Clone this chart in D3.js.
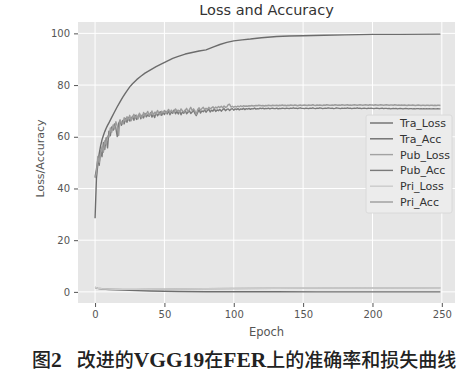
<!DOCTYPE html>
<html>
<head>
<meta charset="utf-8">
<script src="https://cdn.jsdelivr.net/npm/d3@7"></script>
<style>
  body { margin: 0; background: #fff; }
  svg { display: block; }
</style>
</head>
<body>
<div id="chart"></div>
<script>
// training accuracy / losses: sparse readings
var traAccEpoch = [0,1,2,3,4,5,6,7,8,9,10,12,14,16,18,20,22,25,27,30,33,36,40,44,48,52,56,60,65,70,75,80,85,90,95,100,106,112,120,131,140,150,165,180,200,220,249];
var traAcc = [28.5,44.0,49.5,53.5,56.5,58.8,60.5,62.0,63.3,64.4,65.4,67.5,69.6,71.6,73.5,75.3,77.0,79.3,80.5,82.1,83.4,84.6,85.9,87.1,88.2,89.3,90.3,91.1,92.0,92.6,93.2,93.6,94.7,95.7,96.5,97.1,97.5,97.8,98.3,98.8,99.0,99.1,99.3,99.4,99.6,99.6,99.7];

var lossEpoch = [0,2,5,10,15,20,30,40,50,60,80,100,130,160,200,249];
var traLoss = [1.75,1.35,1.1,0.95,0.82,0.7,0.5,0.35,0.22,0.14,0.07,0.04,0.03,0.02,0.02,0.01];
var pubLoss = [1.7,1.4,1.2,1.05,1.0,0.98,0.97,1.0,1.05,1.1,1.2,1.3,1.38,1.44,1.5,1.55];
var priLoss = [1.72,1.42,1.22,1.06,1.01,0.99,0.98,1.01,1.06,1.11,1.21,1.31,1.39,1.45,1.51,1.56];

// validation accuracies, one value per epoch (0..249)
var pubAcc = [
  44.5,47.5,51.2,49.0,54.5,52.3,57.8,55.1,59.6,55.7,
  62.2,60.4,63.8,62.5,65.0,63.3,60.1,65.2,66.3,64.4,
  66.3,65.0,67.1,65.6,67.5,66.1,66.8,67.9,66.4,68.3,
  66.7,67.6,68.8,67.0,68.4,67.3,69.0,67.7,68.5,67.9,
  69.3,67.6,68.7,67.4,69.5,68.1,68.9,69.7,68.3,69.4,
  68.6,69.9,68.8,70.1,68.5,69.6,69.1,70.4,68.9,69.8,
  68.8,70.0,68.5,69.7,69.1,70.3,68.9,69.5,70.1,69.0,
  69.6,70.3,69.0,68.2,69.4,70.5,69.2,70.0,69.7,70.4,
  69.5,70.2,70.7,69.6,70.3,69.9,70.8,69.8,70.4,70.1,
  70.6,69.9,70.5,70.9,70.1,70.6,70.8,70.2,70.7,70.9,
  70.3,70.8,70.5,70.9,70.4,70.8,70.6,71.0,70.5,70.9,
  70.7,71.0,70.6,70.9,70.8,71.1,70.7,70.9,70.8,71.1,
  70.9,71.1,70.8,71.0,70.9,71.1,70.8,71.0,71.1,70.9,
  70.9,71.1,70.8,71.0,70.9,71.1,71.0,70.9,71.1,71.0,
  70.9,71.1,71.0,71.2,71.0,71.1,70.9,71.1,71.2,71.0,
  71.0,70.9,71.1,71.0,70.9,71.1,71.0,71.2,71.0,70.9,
  71.1,71.0,71.2,71.1,70.9,71.0,71.1,71.0,71.2,71.1,
  71.0,71.1,70.9,71.0,71.2,71.1,71.0,70.9,71.1,71.0,
  71.1,71.0,71.2,71.0,71.1,70.9,71.0,71.1,71.0,71.2,
  71.0,71.1,70.9,71.0,71.1,71.0,70.9,71.1,71.0,71.1,
  71.0,70.9,71.0,71.1,71.0,70.9,71.0,71.1,70.9,71.0,
  71.0,70.9,71.0,70.8,70.9,71.0,70.9,71.0,70.8,70.9,
  71.0,70.9,70.8,70.9,71.0,70.9,70.8,70.9,70.9,70.8,
  70.9,70.8,70.9,70.9,70.8,70.9,70.8,70.9,70.8,70.9,
  70.8,70.9,70.8,70.8,70.9,70.8,70.8,70.9,70.8,70.8
];
var priAcc = [
  44.0,46.0,52.4,50.1,53.6,56.2,54.0,58.5,57.0,60.3,
  59.9,63.4,61.7,64.6,63.0,65.8,64.1,60.5,66.6,65.5,
  64.9,67.4,66.0,67.8,66.5,68.3,66.2,67.5,68.7,67.1,
  68.4,66.9,69.1,67.8,67.4,69.4,68.0,68.9,69.8,68.2,
  68.8,70.0,68.4,69.5,68.7,70.2,69.1,68.4,69.9,69.2,
  70.2,69.0,69.7,70.6,69.3,70.3,69.6,69.4,70.8,70.0,
  70.3,69.5,70.8,70.0,69.6,70.2,71.0,69.8,70.5,71.4,
  70.1,70.8,70.0,68.6,70.6,71.2,70.3,70.9,71.4,70.5,
  71.0,70.6,71.4,70.8,71.2,71.6,70.9,71.5,71.1,71.7,
  71.3,71.8,71.2,71.9,71.4,71.6,72.4,72.6,71.5,71.8,
  71.4,71.8,71.5,71.9,71.6,72.0,71.7,72.0,71.8,71.9,
  71.8,72.0,71.9,72.1,71.9,72.0,72.1,72.0,72.2,72.1,
  72.0,72.1,71.9,72.1,72.0,72.2,72.1,72.0,72.2,72.1,
  72.1,72.2,72.0,72.2,72.1,72.3,72.1,72.2,72.0,72.2,
  72.1,72.3,72.2,72.1,72.3,72.2,72.0,72.2,72.3,72.1,
  72.2,72.3,72.2,72.1,72.3,72.2,72.2,72.4,72.2,72.1,
  72.3,72.2,72.3,72.2,72.1,72.3,72.2,72.4,72.3,72.2,
  72.2,72.3,72.2,72.4,72.3,72.2,72.3,72.2,72.4,72.3,
  72.2,72.3,72.4,72.2,72.3,72.2,72.3,72.4,72.3,72.2,
  72.3,72.4,72.3,72.2,72.3,72.4,72.3,72.2,72.4,72.3,
  72.3,72.2,72.4,72.3,72.2,72.3,72.4,72.3,72.2,72.3,
  72.4,72.3,72.2,72.3,72.3,72.2,72.4,72.3,72.2,72.3,
  72.2,72.3,72.2,72.3,72.2,72.1,72.3,72.2,72.2,72.3,
  72.2,72.1,72.2,72.3,72.2,72.1,72.2,72.2,72.1,72.2,
  72.2,72.1,72.2,72.2,72.1,72.2,72.1,72.2,72.2,72.1
];

var legendNames = ["Tra_Loss","Tra_Acc","Pub_Loss","Pub_Acc","Pri_Loss","Pri_Acc"];
var xTicks = [0,50,100,150,200,250];
var yTicks = [0,20,40,60,80,100];

var w = 474, h = 379;
var mLeft = 78, mRight = 455, mTop = 22, mBottom = 303;

var svg = d3.select("#chart").append("svg").attr("width", w).attr("height", h);

var xScale = d3.scaleLinear().domain([-12.3, 259.5]).range([mLeft, mRight]);
var yScale = d3.scaleLinear().domain([-4.3, 104.4]).range([mBottom, mTop]);

// panel
svg.append("rect")
  .attr("x", mLeft).attr("y", mTop)
  .attr("width", mRight - mLeft).attr("height", mBottom - mTop)
  .attr("fill", "#e6e6e6");

// grid
svg.append("g").selectAll("line").data(xTicks).enter().append("line")
  .attr("x1", function(d) { return xScale(d); }).attr("x2", function(d) { return xScale(d); })
  .attr("y1", mTop).attr("y2", mBottom)
  .attr("stroke", "#fff").attr("stroke-width", 1);
svg.append("g").selectAll("line").data(yTicks).enter().append("line")
  .attr("y1", function(d) { return yScale(d); }).attr("y2", function(d) { return yScale(d); })
  .attr("x1", mLeft).attr("x2", mRight)
  .attr("stroke", "#fff").attr("stroke-width", 1);

// axes
var xAxis = d3.axisBottom(xScale).tickValues(xTicks).tickSize(4).tickPadding(4);
var yAxis = d3.axisLeft(yScale).tickValues(yTicks).tickSize(4).tickPadding(4);
var gx = svg.append("g").attr("transform", "translate(0," + mBottom + ")").call(xAxis);
var gy = svg.append("g").attr("transform", "translate(" + mLeft + ",0)").call(yAxis);
[gx, gy].forEach(function(g) {
  g.select(".domain").remove();
  g.selectAll(".tick line").attr("stroke", "#555");
  g.selectAll(".tick text")
    .attr("fill", "#555")
    .attr("font-family", "DejaVu Sans")
    .attr("font-size", "10px");
});

// lines
var line = d3.line()
  .x(function(d) { return xScale(d[0]); })
  .y(function(d) { return yScale(d[1]); });

function pairs(xs, ys) {
  return ys.map(function(v, i) { return [xs[i], v]; });
}
var epochs = d3.range(pubAcc.length);

var series = [
  { name: "Tra_Loss", data: pairs(lossEpoch, traLoss), color: "#6e6e6e" },
  { name: "Tra_Acc", data: pairs(traAccEpoch, traAcc), color: "#6c6c6c" },
  { name: "Pub_Loss", data: pairs(lossEpoch, pubLoss), color: "#a2a2a2" },
  { name: "Pub_Acc", data: pairs(epochs, pubAcc), color: "#7a7a7a" },
  { name: "Pri_Loss", data: pairs(lossEpoch, priLoss), color: "#cbcbcb" },
  { name: "Pri_Acc", data: pairs(epochs, priAcc), color: "#9c9c9c" }
];

svg.append("g").selectAll("path").data(series).enter().append("path")
  .attr("d", function(d) { return line(d.data); })
  .attr("fill", "none")
  .attr("stroke", function(d) { return d.color; })
  .attr("stroke-width", 1.4)
  .attr("stroke-linejoin", "round");

// legend
var lx = 366, ly = 115;
svg.append("rect")
  .attr("x", lx).attr("y", ly).attr("width", 86).attr("height", 98)
  .attr("rx", 2)
  .attr("fill", "#ececec").attr("stroke", "#d6d6d6").attr("stroke-width", 0.8);
var lg = svg.append("g").selectAll("g").data(series).enter().append("g")
  .attr("transform", function(d, i) { return "translate(" + lx + "," + (ly + 8 + i * 15.8) + ")"; });
lg.append("line")
  .attr("x1", 4).attr("x2", 27).attr("y1", 0).attr("y2", 0)
  .attr("stroke", function(d) { return d.color; }).attr("stroke-width", 1.4);
lg.append("text")
  .text(function(d, i) { return legendNames[i]; })
  .attr("x", 34).attr("y", 4)
  .attr("font-family", "DejaVu Sans").attr("font-size", "11px").attr("fill", "#333");

// titles
svg.append("text")
  .text("Loss and Accuracy")
  .attr("x", (mLeft + mRight) / 2).attr("y", 15)
  .attr("text-anchor", "middle")
  .attr("font-family", "DejaVu Sans").attr("font-size", "14.5px").attr("fill", "#333");

svg.append("text")
  .text("Epoch")
  .attr("x", (mLeft + mRight) / 2).attr("y", 336)
  .attr("text-anchor", "middle")
  .attr("font-family", "DejaVu Sans").attr("font-size", "11.5px").attr("fill", "#555");

svg.append("text")
  .text("Loss/Accuracy")
  .attr("transform", "translate(44," + ((mTop + mBottom) / 2 - 4) + ") rotate(-90)")
  .attr("text-anchor", "middle")
  .attr("font-family", "DejaVu Sans").attr("font-size", "11px").attr("fill", "#555");

// caption: Chinese in CJK sans, Latin in bold serif
var cap = svg.append("text")
  .attr("x", 32).attr("y", 367)
  .attr("fill", "#222");
var parts = [
  ["图", "cjk", 0], ["2", "lat", 0], ["改进的", "cjk", 15], ["VGG19", "lat", 0],
  ["在", "cjk", 0], ["FER", "lat", 0], ["上的准确率和损失曲线", "cjk", 0]
];
parts.forEach(function(p) {
  var isLat = p[1] === "lat";
  cap.append("tspan")
    .text(p[0])
    .attr("dx", p[2])
    .attr("font-family", isLat ? "Liberation Serif" : "Noto Sans CJK SC")
    .attr("font-size", isLat ? "21.5px" : "19px")
    .attr("font-weight", isLat ? "bold" : "500");
});
</script>
</body>
</html>
